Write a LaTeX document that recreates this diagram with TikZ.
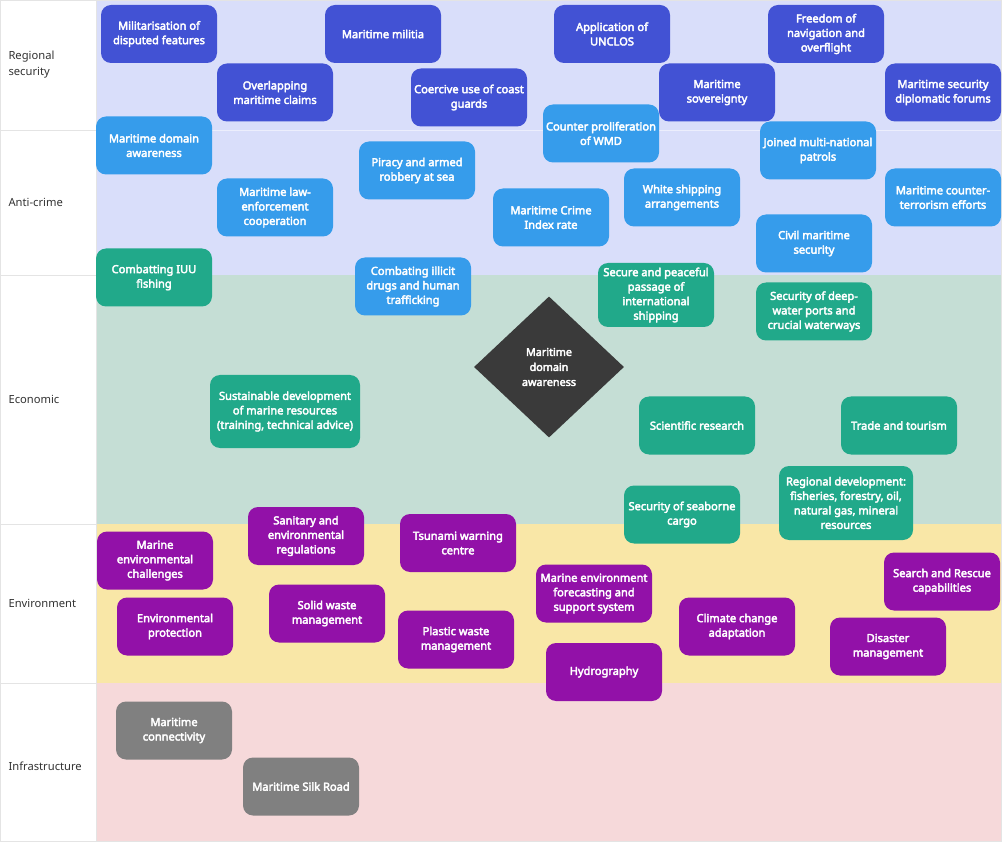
\documentclass[tikz,border=0pt]{standalone}
\usepackage{fontspec}
\setmainfont{Noto Sans}[BoldFont={Noto Sans}, BoldFeatures={FakeBold=3.5}]
\usetikzlibrary{shapes.geometric}
\definecolor{laneblue}{HTML}{D9DEFA}
\definecolor{lanegreen}{HTML}{C5DED5}
\definecolor{laneyellow}{HTML}{F9E7A7}
\definecolor{lanepink}{HTML}{F6D9DA}
\definecolor{gridgray}{HTML}{E4E4E4}
\definecolor{cdark}{HTML}{4252D4}
\definecolor{clight}{HTML}{369CEB}
\definecolor{cgreen}{HTML}{21A98A}
\definecolor{cpurple}{HTML}{9211A8}
\definecolor{cgray}{HTML}{808080}
\definecolor{cdiamond}{HTML}{3A3A3A}
\definecolor{labeltext}{HTML}{333333}
\tikzset{
  box/.style={rectangle, rounded corners=10pt, minimum width=116pt, minimum height=58pt,
    inner sep=1pt, align=center, text=white, font=\fontsize{11.1}{14.5}\selectfont\bfseries},
  rs/.style={box, fill=cdark},
  ac/.style={box, fill=clight},
  ec/.style={box, fill=cgreen},
  en/.style={box, fill=cpurple},
  inf/.style={box, fill=cgray},
  lanelabel/.style={anchor=west, align=left, text=labeltext, font=\fontsize{11.2}{16}\selectfont},
}
\begin{document}
\begin{tikzpicture}[x=1pt,y=-1pt]
\useasboundingbox (0,0) rectangle (1002,842);
% lanes
\fill[white] (0,0) rectangle (96,842);
\fill[laneblue] (96,0) rectangle (1002,275);
\fill[lanegreen] (96,275) rectangle (1002,524);
\fill[laneyellow] (96,524) rectangle (1002,683);
\fill[lanepink] (96,683) rectangle (1002,842);
\draw[white!50!laneblue, line width=1pt] (96,130.5) -- (1002,130.5);
\draw[gridgray, line width=1pt] (0,130.5) -- (96,130.5);
\draw[gridgray, line width=1pt] (0,275.5) -- (96,275.5);
\draw[gridgray, line width=1pt] (0,524.5) -- (96,524.5);
\draw[gridgray, line width=1pt] (0,683.5) -- (96,683.5);
\draw[gridgray, line width=1pt] (96,0) -- (96,842);
\draw[gridgray, line width=1pt] (0.5,0.5) rectangle (1001.5,841.5);
% lane labels
\node[lanelabel] (lrs) at (5,65) {Regional\\security};
\node[lanelabel] (lac) at (5,202) {Anti-crime};
\node[lanelabel] (lec) at (5,399) {Economic};
\node[lanelabel] (len) at (5,603) {Environment};
\node[lanelabel] (lin) at (5,766) {Infrastructure};
% regional security
\node[rs] (n1) at (159,34) {Militarisation of\\disputed features};
\node[rs] (n2) at (383,34) {Maritime militia};
\node[rs] (n3) at (612,34) {Application of\\UNCLOS};
\node[rs] (n4) at (826,34) {Freedom of\\navigation and\\overflight};
\node[rs] (n5) at (275,92.5) {Overlapping\\maritime claims};
\node[rs] (n6) at (469,97.5) {Coercive use of coast\\guards};
\node[rs] (n7) at (717,92.5) {Maritime\\sovereignty};
\node[rs] (n8) at (943,92.5) {Maritime security\\diplomatic forums};
% anti-crime
\node[ac] (n9) at (154,145.5) {Maritime domain\\awareness};
\node[ac] (n10) at (275,207.5) {Maritime law-\\enforcement\\cooperation};
\node[ac] (n11) at (417,170.5) {Piracy and armed\\robbery at sea};
\node[ac] (n12) at (601,133.5) {Counter proliferation\\of WMD};
\node[ac] (n13) at (551,217.5) {Maritime Crime\\Index rate};
\node[ac] (n14) at (682,197.5) {White shipping\\arrangements};
\node[ac] (n15) at (818,150.5) {Joined multi-national\\patrols};
\node[ac] (n16) at (943,197.5) {Maritime counter-\\terrorism efforts};
\node[ac] (n17) at (814,243.5) {Civil maritime\\security};
\node[ac] (n18) at (413,286.5) {Combating illicit\\drugs and human\\trafficking};
% economic
\node[ec] (n19) at (154,277.5) {Combatting IUU\\fishing};
\node[ec, minimum height=64pt] (n20) at (656,295) {Secure and peaceful\\passage of\\international\\shipping};
\node[ec] (n21) at (814,311.5) {Security of deep-\\water ports and\\crucial waterways};
\node[diamond, fill=cdiamond, minimum width=150pt, minimum height=141pt, inner sep=0pt,
  align=center, text=white, font=\fontsize{10.8}{15}\selectfont\bfseries] (n22) at (549,367) {Maritime\\domain\\awareness};
\node[ec, minimum width=150pt, minimum height=73pt] (n23) at (285,411.5) {Sustainable development\\of marine resources\\(training, technical advice)};
\node[ec] (n24) at (697,425.5) {Scientific research};
\node[ec] (n25) at (899,425.5) {Trade and tourism};
\node[ec] (n26) at (682,514.5) {Security of seaborne\\cargo};
\node[ec, minimum width=134pt, minimum height=74pt] (n27) at (846,503) {Regional development:\\fisheries, forestry, oil,\\natural gas, mineral\\resources};
% environment
\node[en] (n28) at (155,560.5) {Marine\\environmental\\challenges};
\node[en] (n29) at (306,536) {Sanitary and\\environmental\\regulations};
\node[en] (n30) at (458,543) {Tsunami warning\\centre};
\node[en] (n31) at (175,626.5) {Environmental\\protection};
\node[en] (n32) at (327,613.5) {Solid waste\\management};
\node[en] (n33) at (456,639.5) {Plastic waste\\management};
\node[en] (n34) at (594,593.5) {Marine environment\\forecasting and\\support system};
\node[en] (n35) at (604,672) {Hydrography};
\node[en] (n36) at (737,626.5) {Climate change\\adaptation};
\node[en] (n37) at (942,581.5) {Search and Rescue\\capabilities};
\node[en] (n38) at (888,646.5) {Disaster\\management};
% infrastructure
\node[inf] (n39) at (174,730.5) {Maritime\\connectivity};
\node[inf] (n40) at (301,786.5) {Maritime Silk Road};
\end{tikzpicture}
\end{document}
